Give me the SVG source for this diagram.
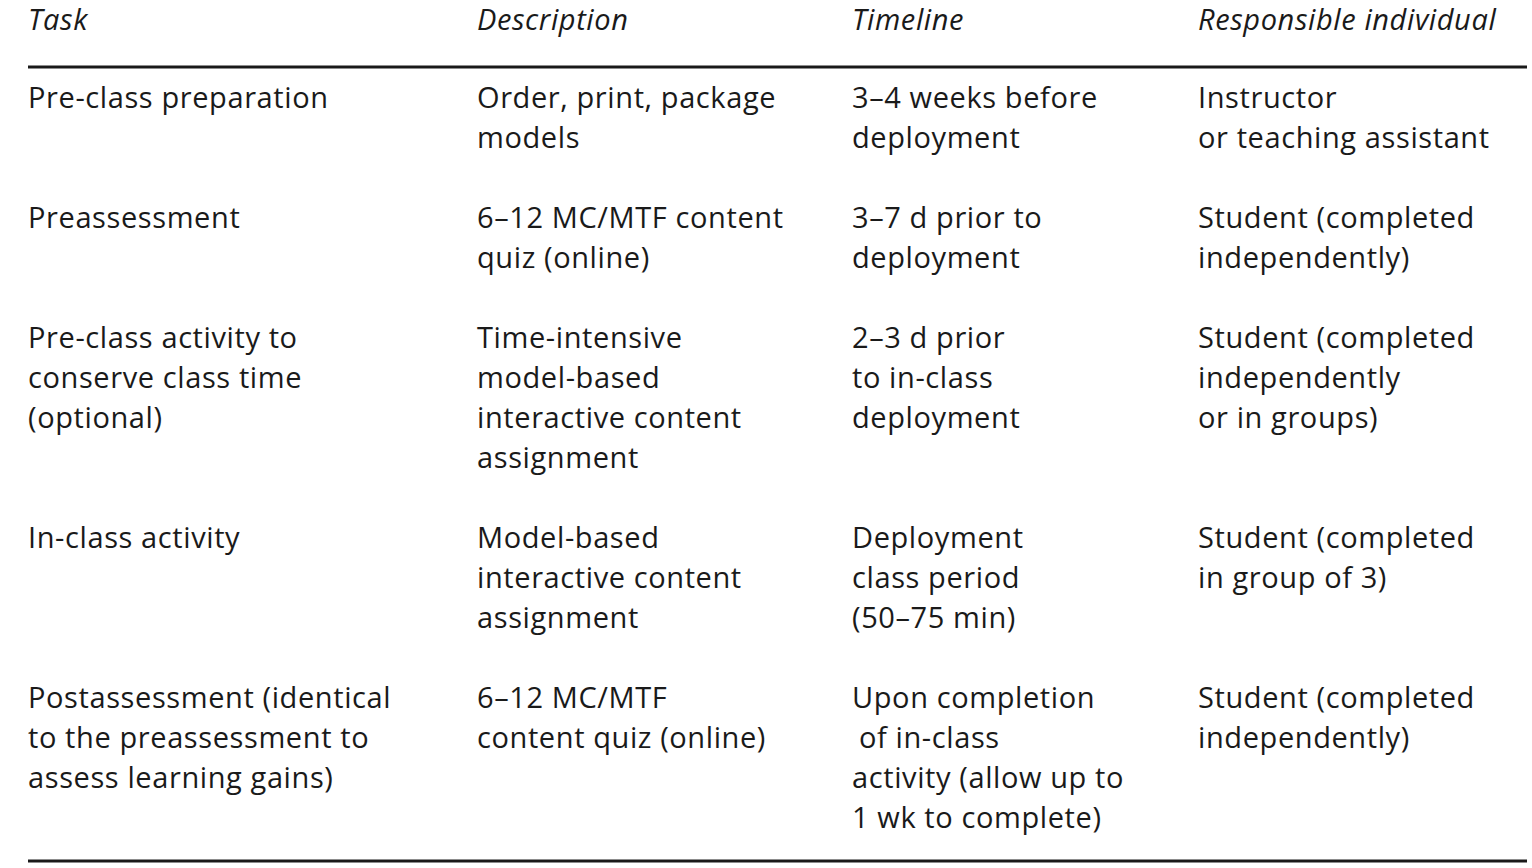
<svg xmlns="http://www.w3.org/2000/svg" width="1532" height="868" viewBox="0 0 1532 868">
<style>
text{font-family:"Open Sans","Noto Sans","Liberation Sans",sans-serif;font-size:29px;letter-spacing:0.6px;fill:#1a1a1a}
.h{font-style:italic}
.r{stroke:#1a1a1a;stroke-width:3}
</style>
<rect width="1532" height="868" fill="#fff"/>
<g id="header">
<text class="h" x="28" y="30">Task</text>
<text class="h" x="477" y="30">Description</text>
<text class="h" x="852" y="30">Timeline</text>
<text class="h" x="1198" y="30">Responsible individual</text>
</g>
<g id="rules">
<line class="r" x1="28" y1="67" x2="1527" y2="67"/>
<line class="r" x1="28" y1="861" x2="1527" y2="861"/>
</g>
<g id="row1">
<text x="28" y="108">Pre-class preparation</text>
<text x="477" y="108">Order, print, package</text><text x="477" y="148">models</text>
<text x="852" y="108">3–4 weeks before</text><text x="852" y="148">deployment</text>
<text x="1198" y="108">Instructor</text><text x="1198" y="148">or teaching assistant</text>
</g>
<g id="row2">
<text x="28" y="228">Preassessment</text>
<text x="477" y="228">6–12 MC/MTF content</text><text x="477" y="268">quiz (online)</text>
<text x="852" y="228">3–7 d prior to</text><text x="852" y="268">deployment</text>
<text x="1198" y="228">Student (completed</text><text x="1198" y="268">independently)</text>
</g>
<g id="row3">
<text x="28" y="348">Pre-class activity to</text><text x="28" y="388">conserve class time</text><text x="28" y="428">(optional)</text>
<text x="477" y="348">Time-intensive</text><text x="477" y="388">model-based</text><text x="477" y="428">interactive content</text><text x="477" y="468">assignment</text>
<text x="852" y="348">2–3 d prior</text><text x="852" y="388">to in-class</text><text x="852" y="428">deployment</text>
<text x="1198" y="348">Student (completed</text><text x="1198" y="388">independently</text><text x="1198" y="428">or in groups)</text>
</g>
<g id="row4">
<text x="28" y="548">In-class activity</text>
<text x="477" y="548">Model-based</text><text x="477" y="588">interactive content</text><text x="477" y="628">assignment</text>
<text x="852" y="548">Deployment</text><text x="852" y="588">class period</text><text x="852" y="628">(50–75 min)</text>
<text x="1198" y="548">Student (completed</text><text x="1198" y="588">in group of 3)</text>
</g>
<g id="row5">
<text x="28" y="708">Postassessment (identical</text><text x="28" y="748">to the preassessment to</text><text x="28" y="788">assess learning gains)</text>
<text x="477" y="708">6–12 MC/MTF</text><text x="477" y="748">content quiz (online)</text>
<text x="852" y="708">Upon completion</text><text x="859" y="748">of in-class</text><text x="852" y="788">activity (allow up to</text><text x="852" y="828">1 wk to complete)</text>
<text x="1198" y="708">Student (completed</text><text x="1198" y="748">independently)</text>
</g>
</svg>
